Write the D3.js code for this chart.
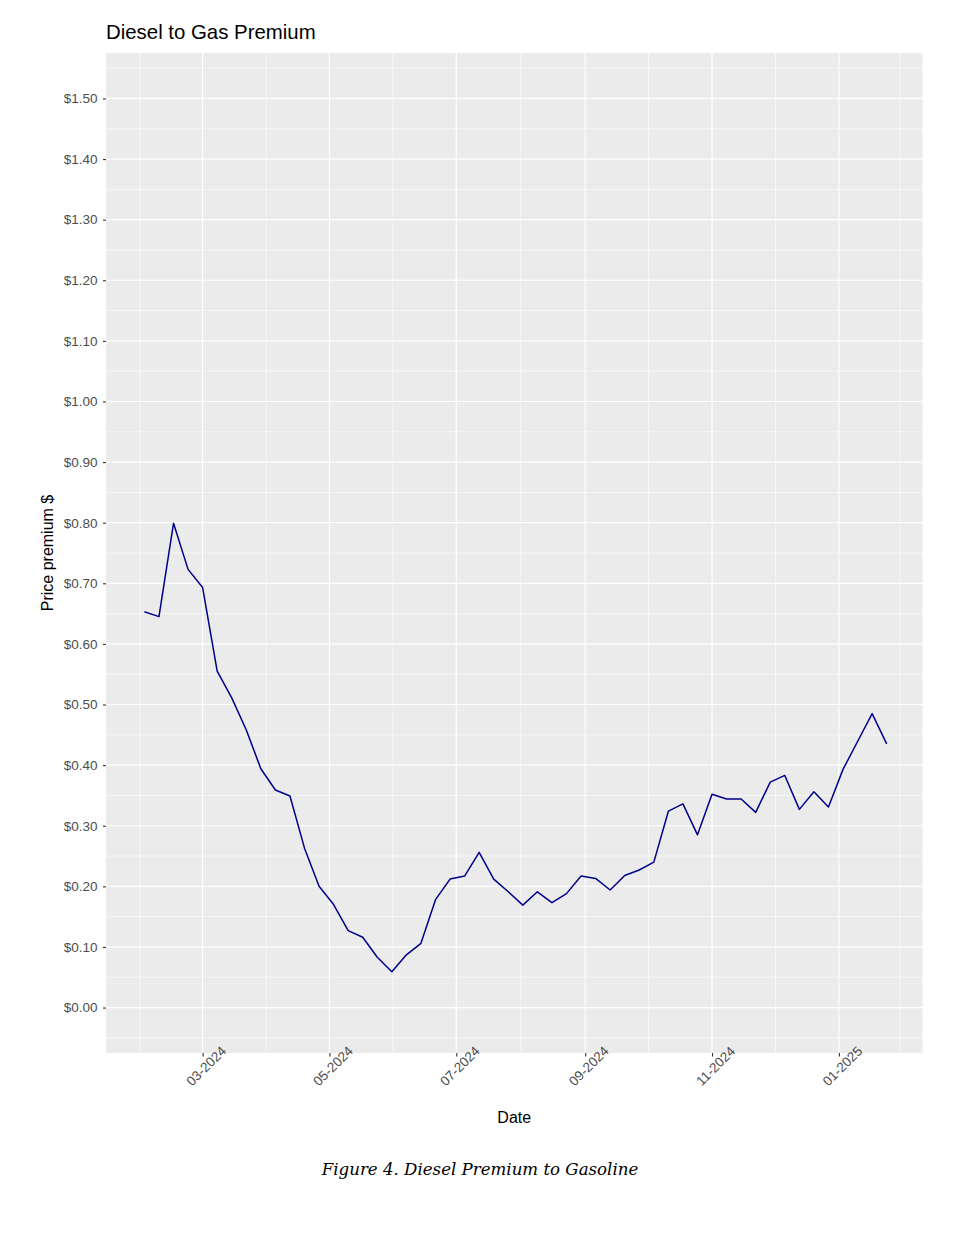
<!DOCTYPE html>
<head>
<meta charset="utf-8">
<script src="https://d3js.org/d3.v7.min.js"></script>
<style>
  body { margin: 0; background: #fff; }
</style>
</head>
<body>
<svg width="968" height="1234" font-family="'Liberation Sans', Arial, sans-serif"></svg>
<script>

// weekly diesel-minus-gasoline price premium
let dates = [
  "2024-02-02", "2024-02-09", "2024-02-16", "2024-02-23",
  "2024-03-01", "2024-03-08", "2024-03-15", "2024-03-22", "2024-03-29",
  "2024-04-05", "2024-04-12", "2024-04-19", "2024-04-26",
  "2024-05-03", "2024-05-10", "2024-05-17", "2024-05-24", "2024-05-31",
  "2024-06-07", "2024-06-14", "2024-06-21", "2024-06-28",
  "2024-07-05", "2024-07-12", "2024-07-19", "2024-07-26",
  "2024-08-02", "2024-08-09", "2024-08-16", "2024-08-23", "2024-08-30",
  "2024-09-06", "2024-09-13", "2024-09-20", "2024-09-27",
  "2024-10-04", "2024-10-11", "2024-10-18", "2024-10-25",
  "2024-11-01", "2024-11-08", "2024-11-15", "2024-11-22", "2024-11-29",
  "2024-12-06", "2024-12-13", "2024-12-20", "2024-12-27",
  "2025-01-03", "2025-01-10", "2025-01-17", "2025-01-24"
];

let premium = [
  0.653, 0.645, 0.799, 0.723,
  0.693, 0.555, 0.511, 0.458, 0.394,
  0.359, 0.349, 0.263, 0.200,
  0.170, 0.127, 0.116, 0.083, 0.059,
  0.087, 0.106, 0.178, 0.212,
  0.217, 0.256, 0.212, 0.191,
  0.169, 0.191, 0.173, 0.188, 0.217,
  0.213, 0.194, 0.218, 0.227,
  0.240, 0.324, 0.336, 0.285,
  0.352, 0.344, 0.344, 0.322, 0.372,
  0.383, 0.327, 0.356, 0.331,
  0.393, 0.439, 0.485, 0.435
];

let yTicks = [0, 0.1, 0.2, 0.3, 0.4, 0.5, 0.6, 0.7, 0.8, 0.9, 1.0, 1.1, 1.2, 1.3, 1.4, 1.5];

let svg = d3.select("svg");

let panel = { left: 106, right: 922.5, top: 53, bottom: 1053 };

let data = dates.map(function(d, i) { return { date: new Date(d + "T00:00:00Z"), value: premium[i] }; });

// ggplot style 5% expansion on the date axis
let ext = d3.extent(data, function(d) { return d.date; });
let pad = (ext[1] - ext[0]) * 0.05;

let x = d3.scaleUtc()
    .domain([new Date(+ext[0] - pad), new Date(+ext[1] + pad)])
    .range([panel.left + 1.3, panel.right + 1.3]);

// limits 0 - 1.5 with the same 5% expansion
let y = d3.scaleLinear()
    .domain([-0.075, 1.575])
    .range([panel.bottom, panel.top]);

// panel background
svg.append("rect")
    .attr("x", panel.left)
    .attr("y", panel.top)
    .attr("width", panel.right - panel.left)
    .attr("height", panel.bottom - panel.top)
    .attr("fill", "#ebebeb");

// major / minor breaks
let majorX = d3.utcMonth.every(2).range(d3.utcMonth.offset(x.domain()[0], -2), d3.utcMonth.offset(x.domain()[1], 2));
let minorX = [];
for (let i = 0; i < majorX.length - 1; i++) {
  minorX.push(new Date((+majorX[i] + +majorX[i + 1]) / 2));
}
let inX = function(d) { return x(d) >= panel.left && x(d) <= panel.right; };
majorX = majorX.filter(inX);
minorX = minorX.filter(inX);

let minorY = d3.range(-1, 16).map(function(i) { return i / 10 + 0.05; })
    .filter(function(v) { return v > -0.075 && v < 1.575; });

let grid = svg.append("g").attr("stroke", "#fff");

grid.selectAll(".minor-y")
  .data(minorY)
  .enter().append("line")
    .attr("x1", panel.left).attr("x2", panel.right)
    .attr("y1", y).attr("y2", y)
    .attr("stroke-width", 0.6);

grid.selectAll(".minor-x")
  .data(minorX)
  .enter().append("line")
    .attr("x1", x).attr("x2", x)
    .attr("y1", panel.top).attr("y2", panel.bottom)
    .attr("stroke-width", 0.6);

grid.selectAll(".major-y")
  .data(yTicks)
  .enter().append("line")
    .attr("x1", panel.left).attr("x2", panel.right)
    .attr("y1", y).attr("y2", y)
    .attr("stroke-width", 1.2);

grid.selectAll(".major-x")
  .data(majorX)
  .enter().append("line")
    .attr("x1", x).attr("x2", x)
    .attr("y1", panel.top).attr("y2", panel.bottom)
    .attr("stroke-width", 1.2);

// the line
let line = d3.line()
    .x(function(d) { return x(d.date); })
    .y(function(d) { return y(d.value); });

svg.append("path")
    .datum(data)
    .attr("fill", "none")
    .attr("stroke", "#00008b")
    .attr("stroke-width", 1.5)
    .attr("stroke-linejoin", "round")
    .attr("d", line);

// y axis
let yAxis = svg.append("g")
    .attr("transform", "translate(" + panel.left + ",0)")
    .call(d3.axisLeft(y)
      .tickValues(yTicks)
      .tickSize(3)
      .tickPadding(5.5)
      .tickFormat(function(d) { return "$" + d3.format(".2f")(d); }));

yAxis.select(".domain").remove();
yAxis.selectAll(".tick line").attr("stroke", "#333").attr("stroke-width", 1.1);
yAxis.selectAll(".tick text")
    .attr("fill", "#4d4d4d")
    .attr("font-size", "13.5px")
    .attr("font-family", "'Liberation Sans', Arial, sans-serif");

// x axis
let xAxis = svg.append("g")
    .attr("transform", "translate(0," + panel.bottom + ")")
    .call(d3.axisBottom(x)
      .tickValues(majorX)
      .tickSize(3.5)
      .tickFormat(d3.utcFormat("%m-%Y")));

xAxis.select(".domain").remove();
xAxis.selectAll(".tick line").attr("stroke", "#333").attr("stroke-width", 1.1);
xAxis.selectAll(".tick text")
    .attr("fill", "#4d4d4d")
    .attr("font-size", "13.5px")
    .attr("font-family", "'Liberation Sans', Arial, sans-serif")
    .attr("text-anchor", "middle")
    .attr("y", null)
    .attr("dy", "0.35em")
    .attr("transform", "translate(3,13) rotate(-45)");

// titles
svg.append("text")
    .attr("x", panel.left)
    .attr("y", 39)
    .attr("font-size", "20.4px")
    .attr("fill", "#000")
    .text("Diesel to Gas Premium");

svg.append("text")
    .attr("transform", "translate(52.5," + (panel.top + panel.bottom) / 2 + ") rotate(-90)")
    .attr("text-anchor", "middle")
    .attr("font-size", "16px")
    .attr("fill", "#000")
    .text("Price premium $");

svg.append("text")
    .attr("x", (panel.left + panel.right) / 2)
    .attr("y", 1123.3)
    .attr("text-anchor", "middle")
    .attr("font-size", "16px")
    .attr("fill", "#000")
    .text("Date");

// caption under the figure
let caption = svg.append("text")
    .attr("x", 480)
    .attr("y", 1175)
    .attr("text-anchor", "middle")
    .attr("font-family", "'DejaVu Serif', serif")
    .attr("font-style", "italic")
    .attr("font-size", "17px")
    .attr("fill", "#000")
    .text("Figure 4. Diesel Premium to Gasoline");

let w = caption.node().getComputedTextLength();
caption.attr("font-size", (17 * 317 / w) + "px");

</script>
</body>
